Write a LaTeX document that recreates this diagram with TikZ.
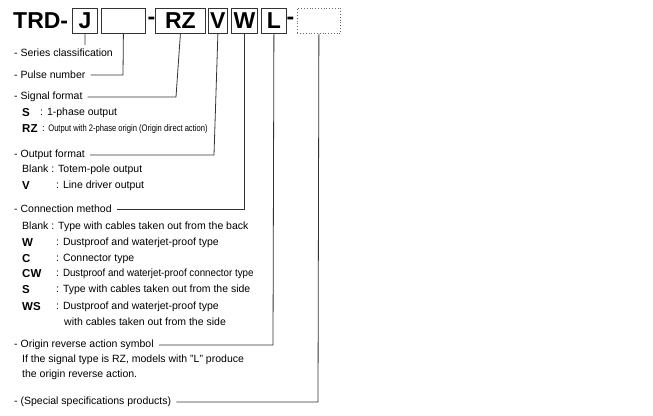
\documentclass[tikz,border=0pt]{standalone}
\usepackage{fontspec}
\setmainfont{Liberation Sans}
\begin{document}
\begin{tikzpicture}[x=1pt,y=-1pt,
  box/.style={draw=black!80,line width=0.8pt,anchor=north west,inner sep=0,minimum height=25pt,font=\fontsize{23}{23}\selectfont\bfseries},
  lbl/.style={anchor=west,inner sep=0,font=\fontsize{10.5}{12}\selectfont},
  key/.style={anchor=west,inner sep=0,font=\fontsize{11.5}{12}\selectfont\bfseries},
  ln/.style={draw=black!80,line width=0.8pt}]
\useasboundingbox (0,0) rectangle (653,415);
\node[anchor=west,inner sep=0,font=\fontsize{23}{23}\selectfont\bfseries] (trd) at (13,20.5) {TRD-};
\node[box,minimum width=25pt] (bj) at (72,8) {J};
\node[box,minimum width=44pt] (bp) at (101,8) {};
\node[anchor=east,inner sep=0,font=\fontsize{23}{23}\selectfont\bfseries] (d1) at (155.5,20.5) {-};
\node[box,minimum width=50pt] (brz) at (155,8) {RZ};
\node[box,minimum width=19pt] (bv) at (208,8) {V};
\node[box,minimum width=26pt] (bw) at (231,8) {W};
\node[box,minimum width=25pt] (bl) at (261,8) {L};
\node[anchor=west,inner sep=0,font=\fontsize{23}{23}\selectfont\bfseries] (d2) at (286.5,20.5) {-};
\node[box,dotted,minimum width=43pt,draw=black!60] (bs) at (297,8) {};
% labels
\node[lbl] (l1) at (14,53) {- Series classification};
\node[lbl] (l2) at (14,75) {- Pulse number};
\node[lbl] (l3) at (14,97) {- Signal format};
\node[key] at (22,113) {S};
\node[lbl] at (40,113) {: 1-phase output};
\node[key] at (22,129) {RZ};
\node[lbl,font=\fontsize{9.5}{10}\selectfont] at (42,129) {: \addfontfeatures{FakeStretch=0.8}Output with 2-phase origin (Origin direct action)};
\node[lbl] (l4) at (14,155) {- Output format};
\node[lbl] at (22,170) {Blank : Totem-pole output};
\node[key] at (22,186) {V};
\node[lbl] at (56,186) {: Line driver output};
\node[lbl] (l5) at (14,209) {- Connection method};
\node[lbl] at (22,227) {Blank : Type with cables taken out from the back};
\node[key] at (22,243) {W};\node[lbl] at (56,243) {: Dustproof and waterjet-proof type};
\node[key] at (22,259) {C};\node[lbl] at (56,259) {: Connector type};
\node[key] at (22,274) {CW};\node[lbl] at (56,274) {: \addfontfeatures{FakeStretch=0.93}Dustproof and waterjet-proof connector type};
\node[key] at (22,290) {S};\node[lbl] at (56,290) {: Type with cables taken out from the side};
\node[key] at (22,307) {WS};\node[lbl] at (56,307) {: Dustproof and waterjet-proof type};
\node[lbl] at (64,322) {with cables taken out from the side};
\node[lbl] (l6) at (14,345) {- Origin reverse action symbol};
\node[lbl] at (22,360) {If the signal type is RZ, models with "L" produce};
\node[lbl] at (22,375) {the origin reverse action.};
\node[lbl] (l7) at (14,402) {- (Special specifications products)};
% leaders
\draw[ln] (bj.south) -- (85,45);
\draw[ln] (bp.south) -- (123,75) -- ([xshift=5pt]l2.east);
\draw[ln] (brz.south) -- (176,97) -- ([xshift=5pt]l3.east);
\draw[ln] (bv.south) -- (214,155) -- ([xshift=5pt]l4.east);
\draw[ln] (244,33) -- (244,209) -- ([xshift=5pt]l5.east);
\draw[ln] (bl.south) -- (273,345) -- ([xshift=5pt]l6.east);
\draw[ln] (bs.south) -- (318,402) -- ([xshift=5pt]l7.east);
\end{tikzpicture}
\end{document}
